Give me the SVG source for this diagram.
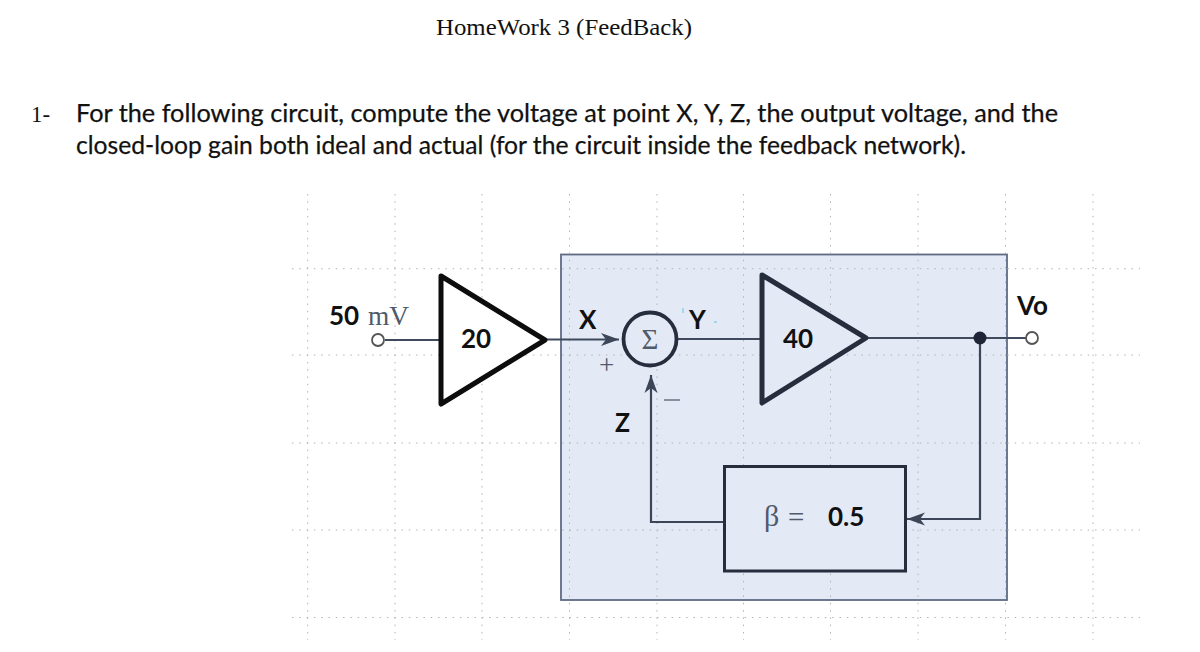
<svg xmlns="http://www.w3.org/2000/svg" width="1200" height="652" viewBox="0 0 1200 652">
<style>
.grid{stroke:#b4b4b4;stroke-width:1;stroke-dasharray:1.5 5.8;fill:none}
.wire{stroke:#3f4a5c;stroke-width:1.800;fill:none}
.wire2{stroke:#3c4658;stroke-width:2.200;fill:none}
.amp{stroke:#0d0d0d;stroke-width:5;stroke-linejoin:round;fill:#fff}
.amp2{stroke:#262d3d;stroke-width:5;stroke-linejoin:round;fill:#e3e9f5}
.b{font-family:Lato,"Liberation Sans",sans-serif;font-weight:700;fill:#111;font-size:26px}
.s{font-family:"Liberation Serif","Times New Roman",serif;fill:#4f5a6b}
.head{font-family:"Liberation Serif","Times New Roman",serif;font-size:24px;fill:#111}
.body{font-family:Lato,"Open Sans",sans-serif;font-size:25.500px;fill:#111;stroke:#111;stroke-width:.25}
</style>
<defs>
<marker id="arr" markerUnits="userSpaceOnUse" markerWidth="20" markerHeight="16" refX="18" refY="8" orient="auto"><path d="M0 1.500 L18 8 L0 14.500 L5 8 Z" fill="#3c4658"/></marker>
</defs>
<rect width="1200" height="652" fill="#fff"/>
<g id="text">
<text class="head" x="436" y="35" textLength="256" lengthAdjust="spacingAndGlyphs">HomeWork 3 (FeedBack)</text>
<text class="head" x="31" y="122" textLength="19" lengthAdjust="spacingAndGlyphs">1-</text>
<text class="body" x="76" y="122" textLength="982" lengthAdjust="spacingAndGlyphs">For the following circuit, compute the voltage at point X, Y, Z, the output voltage, and the</text>
<text class="body" x="76" y="154" textLength="890" lengthAdjust="spacingAndGlyphs">closed-loop gain both ideal and actual (for the circuit inside the feedback network).</text>
</g>
<rect id="feedback-network" x="561" y="254.500" width="446" height="345.500" fill="#e3e9f5" stroke="#5f6b85" stroke-width="1.800"/>
<g id="grid" class="grid">
<path d="M292 268.700H1140M292 355H1140M292 443H1140M292 530H1140M292 617.500H1140"/>
<path d="M307.700 194V640M395 194V640M482 194V640M569.500 194V640M657 194V640M743.500 194V640M830.500 194V640M918 194V640M1005.500 194V640M1093 194V640"/>
</g>
<g id="connectors">
<path class="wire" d="M385 340H441"/>
<path class="wire" d="M547 339.500H619" marker-end="url(#arr)"/>
<path class="wire" d="M678 339H762"/>
<path class="wire" d="M868 338H1026"/>
<path class="wire2" d="M980 338V519H907" marker-end="url(#arr)"/>
<path class="wire2" d="M724 522H651V375" marker-end="url(#arr)"/>
</g>
<g id="input"><circle cx="378" cy="340" r="6" fill="#fff" stroke="#555" stroke-width="1.800"/><text class="b" x="329" y="325">50</text><text class="s" x="368" y="325" font-size="27" textLength="41" lengthAdjust="spacingAndGlyphs">mV</text></g>
<g id="amp20"><path class="amp" d="M441 276L545 340L441 404Z"/><text class="b" x="461" y="348">20</text></g>
<g id="sum"><circle cx="650" cy="339" r="26.500" fill="#e3e9f5" stroke="#262d3d" stroke-width="3.800"/><text class="s" x="650" y="349" font-size="29" text-anchor="middle">Σ</text></g>
<g id="labels">
<text class="b" x="579" y="329">X</text>
<text class="b" x="689" y="329">Y</text>
<text class="b" x="615" y="432" font-size="25" textLength="15" lengthAdjust="spacingAndGlyphs">Z</text>
<text class="s" x="599" y="374" font-size="27" fill="#6f7f96">+</text>
<path d="M664 400H680" stroke="#6b7585" stroke-width="1.500"/>
<path d="M683 308V313" stroke="#8fd0ea" stroke-width="1.500"/>
<path d="M714 322H717" stroke="#8fd0ea" stroke-width="1.500"/>
</g>
<g id="amp40"><path class="amp2" d="M762 275L866 338L762 403Z"/><text class="b" x="783" y="348" fill="#262d3d">40</text></g>
<g id="output"><circle cx="980" cy="338" r="6.500" fill="#1e2536"/><circle cx="1032" cy="338" r="6" fill="#fff" stroke="#555" stroke-width="1.800"/><text class="b" x="1017" y="315">Vo</text></g>
<g id="beta"><rect x="724.500" y="466.500" width="181" height="104.500" fill="#e3e9f5" stroke="#262d3d" stroke-width="3"/><text class="s" x="764" y="526" font-size="30">β</text><text class="s" x="788" y="527" font-size="29">=</text><text class="b" x="828" y="526" fill="#222">0.5</text></g>
</svg>
